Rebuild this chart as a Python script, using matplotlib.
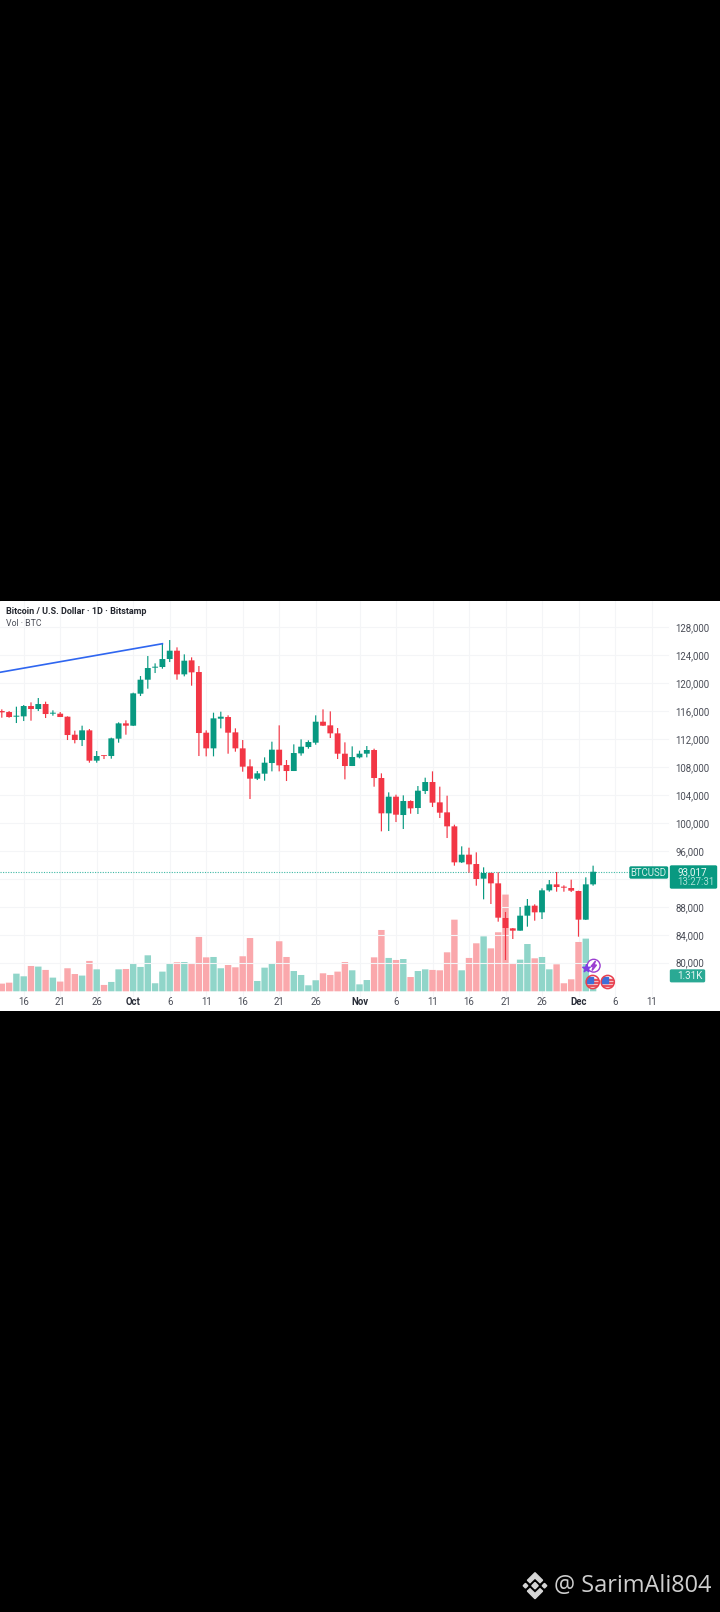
import matplotlib
matplotlib.use("Agg")
import matplotlib.pyplot as plt
from matplotlib.patches import Circle, Polygon, Rectangle, FancyBboxPatch

plt.rcParams["font.family"] = ["Roboto", "DejaVu Sans"]

# dias contados desde el 1 de octubre, primera vela = 13 sep
first_day = -18

opens = [116018, 115875, 115207, 115255, 116734, 116305, 117020, 115637, 115637, 115207,
         112632, 111868, 113252, 108911, 109674, 109579, 112059, 114253, 113920, 118499,
         120502, 122219, 122315, 123460, 124652, 121265, 123269, 121599, 112918, 110676,
         114921, 115160, 112966, 110675, 108100, 106335, 107050, 108577, 110485, 108290,
         107432, 109960, 110866, 111486, 114491, 113967, 112822, 109912, 108147, 109388,
         109912, 110437, 106430, 101374, 103759, 101135, 103139, 102137, 104570, 105858,
         102948, 101517, 99514, 94362, 95459, 94124, 92025, 92836, 91357, 86396,
         84917, 84584, 86730, 88161, 87207, 90355, 91214, 90880, 90689, 90260,
         86158, 91214]
highs = [116257, 116018, 116638, 116877, 117259, 117879, 117354, 116114, 115875, 115255,
         113204, 113920, 113443, 110294, 109674, 112202, 114397, 114683, 118642, 121027,
         123889, 122839, 125701, 126178, 125129, 124127, 123698, 122458, 113252, 115780,
         115923, 115398, 113538, 111868, 109101, 107432, 109388, 111629, 113967, 109006,
         111248, 111963, 111820, 115398, 116256, 115970, 113585, 111534, 110962, 110342,
         111009, 110628, 107098, 104379, 104045, 103950, 103234, 105285, 106478, 107384,
         105190, 103902, 99752, 96652, 96461, 95793, 93647, 92883, 92931, 87255,
         84965, 87970, 89115, 88352, 90641, 91834, 92979, 91071, 91882, 90308,
         92216, 93885]
lows = [115064, 115064, 114301, 114587, 114635, 116018, 115017, 115351, 115160, 111868,
        111391, 111010, 108625, 108625, 109150, 109197, 111487, 112632, 113872, 118165,
        119214, 121456, 122076, 123030, 120502, 120979, 119644, 109579, 109531, 109531,
        113538, 109913, 110199, 107336, 103425, 106144, 106049, 107384, 107384, 106001,
        107432, 109626, 110628, 111200, 113871, 112154, 109149, 106239, 108147, 109244,
        109388, 105190, 98798, 98846, 100134, 99132, 101326, 101279, 104141, 102280,
        100706, 97844, 93885, 94267, 92883, 91023, 89067, 88400, 85871, 80386,
        83391, 84584, 85156, 86015, 86253, 90164, 90164, 90164, 90117, 83725,
        86110, 91023]
closes = [115828, 115160, 115351, 116734, 116305, 117020, 115589, 115780, 115160, 112584,
          111868, 113252, 108911, 109579, 109579, 112107, 114253, 113920, 118546, 120502,
          122172, 122362, 123460, 124652, 121265, 123221, 121552, 112870, 110676, 114969,
          115207, 112918, 110676, 108052, 106335, 107098, 108624, 110485, 108243, 107432,
          110008, 110914, 111582, 114491, 113919, 112822, 109912, 108147, 109435, 109912,
          110437, 106430, 101374, 103759, 101183, 103139, 102089, 104618, 105858, 102900,
          101469, 99514, 94362, 95459, 94076, 91977, 92836, 91357, 86444, 84965,
          84584, 86730, 88161, 87207, 90355, 91214, 90832, 90737, 90308, 86158,
          91214, 93017]
volumes = [0.64, 0.72, 1.47, 1.25, 2.11, 2.06, 1.78, 1.14, 0.81, 1.92,
           1.44, 1.31, 2.53, 1.83, 0.53, 0.78, 1.83, 1.86, 2.28, 2.03,
           3.00, 0.67, 1.64, 2.33, 2.42, 2.44, 2.28, 4.53, 2.83, 2.86,
           1.92, 2.19, 2.00, 2.92, 4.44, 0.86, 1.97, 2.33, 4.17, 2.86,
           1.69, 1.36, 0.50, 0.92, 1.50, 1.36, 1.64, 2.44, 1.75, 0.58,
           0.94, 2.83, 5.11, 2.78, 2.61, 2.69, 1.19, 1.69, 1.83, 1.78,
           1.75, 3.25, 5.97, 1.75, 2.78, 4.00, 4.58, 3.58, 4.92, 8.06,
           2.28, 2.64, 3.94, 2.75, 2.86, 1.83, 2.25, 0.67, 1.00, 4.11,
           4.39, 1.31]

price_ticks = [80000, 84000, 88000, 92000, 96000, 100000, 104000, 108000, 112000, 116000, 120000, 124000, 128000]
price_labels = ["80,000", "84,000", "88,000", "", "96,000", "100,000", "104,000", "108,000", "112,000", "116,000", "120,000", "124,000", "128,000"]
date_ticks = [-15, -10, -5, 0, 5, 10, 15, 20, 25, 31, 36, 41, 46, 51, 56, 61, 66, 71]
date_labels = ["16", "21", "26", "Oct", "6", "11", "16", "21", "26", "Nov", "6", "11", "16", "21", "26", "Dec", "6", "11"]
bold_dates = ["Oct", "Nov", "Dec"]

trend_days = [-18.3, 4.0]
trend_prices = [121550, 125650]
last_price = 93017

UP = "#089981"
DOWN = "#F23645"
VOL_UP = "#90D5C9"
VOL_DOWN = "#FAA8AC"
GRID = "#F4F5F7"
TEXT = "#4A4D57"

W, H = 720, 1612
TOP, BOTTOM = 601, 1011
PX_DAY = 7.3
X_OCT = 133.2
Y_80K = 962.7
PX_4K = 27.95
VOL_BASE = 991.3
PX_VOL = 12.0

fig = plt.figure(figsize=(W / 100, H / 100), dpi=100, facecolor="black")
box = [0, 1 - BOTTOM / H, 1, (BOTTOM - TOP) / H]

x_lim = ((0 - X_OCT) / PX_DAY, (W - X_OCT) / PX_DAY)


def price_at(y):
    return 80000 + (Y_80K - y) / PX_4K * 4000


# volumen y rejilla abajo
ax_vol = fig.add_axes(box, facecolor="white", zorder=1)
ax_vol.set_xlim(x_lim)
ax_vol.set_ylim((VOL_BASE - BOTTOM) / PX_VOL, (VOL_BASE - TOP) / PX_VOL)
ax_vol.axis("off")
ax_vol.add_patch(Rectangle((0, 0), 1, 1, transform=ax_vol.transAxes, color="white", zorder=0))

days = [first_day + i for i in range(len(opens))]
up = [c >= o for o, c in zip(opens, closes)]

for d in date_ticks:
    ax_vol.axvline(d, ymin=(BOTTOM - 996) / (BOTTOM - TOP), color=GRID, lw=0.8, zorder=1)
vol_bars = ax_vol.bar(days, volumes, width=0.88, color=[VOL_UP if u else VOL_DOWN for u in up], zorder=2)
for b in vol_bars:
    b.set_snap(False)

# velas
ax = fig.add_axes(box, facecolor="none", zorder=2)
ax.set_xlim(x_lim)
ax.set_ylim(price_at(BOTTOM), price_at(TOP))
for p in price_ticks:
    ax.axhline(p, xmax=668 / W, color=GRID, lw=0.8, zorder=1)

colors = [UP if u else DOWN for u in up]
wicks = ax.vlines(days, lows, highs, colors=colors, lw=0.85, zorder=3)
wicks.set_snap(False)
bodies = ax.bar(days, [max(abs(c - o), 120) for o, c in zip(opens, closes)],
                bottom=[min(o, c) for o, c in zip(opens, closes)],
                width=0.8, color=colors, zorder=4)
for b in bodies:
    b.set_snap(False)

ax.plot(trend_days, trend_prices, color="#2F66F0", lw=1.2, zorder=5)
ax.plot([x_lim[0], (630 - X_OCT) / PX_DAY], [last_price, last_price], color="#3DB8A5", lw=0.8,
        linestyle=(0, (1, 1.3)), zorder=2)

for s in ax.spines.values():
    s.set_visible(False)
ax.set_yticks(price_ticks, price_labels)
ax.set_xticks(date_ticks, date_labels)
ax.yaxis.tick_right()
ax.tick_params(axis="y", length=0, pad=-32.2, labelsize=6.9, labelcolor=TEXT)
ax.tick_params(axis="x", length=0, pad=-10, labelsize=6.9, labelcolor=TEXT)
for lab in ax.get_xticklabels():
    if lab.get_text() in bold_dates:
        lab.set_fontweight("bold")
        lab.set_color("#2A2E39")
for lab in ax.get_yticklabels():
    lab.set_ha("left")

# capa en pixeles para etiquetas e iconos
ov = fig.add_axes([0, 0, 1, 1], facecolor="none", zorder=3)
ov.set_xlim(0, W)
ov.set_ylim(H, 0)
ov.axis("off")

ov.text(5.5, 612, "Bitcoin / U.S. Dollar · 1D · Bitstamp", fontsize=6.45, fontweight="bold",
        color="#24272F", va="center")
ov.text(5.5, 624, "Vol · BTC", fontsize=6.3, color=TEXT, va="center")

ov.add_patch(FancyBboxPatch((630, 867), 37.5, 11, boxstyle="round,pad=0,rounding_size=1", color=UP))
ov.text(648.7, 872.7, "BTCUSD", fontsize=6.9, color="#D5EFEA", ha="center", va="center")
ov.add_patch(FancyBboxPatch((670.5, 866), 46, 22, boxstyle="round,pad=0,rounding_size=1", color=UP))
ov.text(677, 872.2, "93,017", fontsize=7.1, color="#EEF9F7", va="center")
ov.text(677, 881.8, "13:27:31", fontsize=6.9, color="#A8DFD5", va="center")
ov.add_patch(FancyBboxPatch((670.5, 970), 34, 11.7, boxstyle="round,pad=0,rounding_size=1", color="#2AA994"))
ov.text(677, 975.9, "1.31K", fontsize=7.1, color="#EAF7F5", va="center")

# icono de rayo
ov.add_patch(Circle((593.7, 965.7), 6.4, fc="white", ec="#9C3FD0", lw=1.0, zorder=5))
ov.add_patch(Polygon([(595.5, 961), (591, 966.5), (593.5, 966.5), (592, 970.5), (596.5, 965), (594, 965)],
                     color="#9C3FD0", zorder=6))
ov.scatter([585.7], [968], marker="*", s=32, color="#7B3FE4", zorder=7)


# banderas
def flag(cx, cy):
    clip = Circle((cx, cy), 6.6, transform=ov.transData)
    ov.add_patch(Circle((cx, cy), 6.6, fc="white", ec="none", zorder=5))
    for k in range(3):
        r = Rectangle((cx - 7, cy - 3.5 + k * 3.2), 14, 1.5, color="#E8525F", zorder=6)
        ov.add_patch(r)
        r.set_clip_path(clip)
    r = Rectangle((cx - 7, cy - 5), 7, 5.5, color="#3F6FD8", zorder=7)
    ov.add_patch(r)
    r.set_clip_path(clip)
    ov.add_patch(Circle((cx, cy), 6.6, fc="none", ec="#E8404F", lw=1.1, zorder=8))


flag(592.7, 982)
flag(607.7, 982)

# marca de agua
LOGO = "#D6D6D6"
lx, ly = 535, 1585.7
shapes = [
    [(0, -3.2), (3.2, 0), (0, 3.2), (-3.2, 0)],
    [(-9.5, -2.3), (-7.2, 0), (-9.5, 2.3), (-11.8, 0)],
    [(9.5, -2.3), (11.8, 0), (9.5, 2.3), (7.2, 0)],
    [(0, -13), (7.6, -5.4), (5, -3), (0, -7.8), (-5, -3), (-7.6, -5.4)],
    [(0, 13), (7.6, 5.4), (5, 3), (0, 7.8), (-5, 3), (-7.6, 5.4)],
]
for s in shapes:
    ov.add_patch(Polygon([(lx + a, ly + b) for a, b in s], color=LOGO))
ov.text(554, 1585.5, "@ SarimAli804", family=["Open Sans", "DejaVu Sans"], fontsize=16.9,
        color="#CFCFCF", va="center")

fig.savefig("out.png", dpi=100, facecolor="black")
